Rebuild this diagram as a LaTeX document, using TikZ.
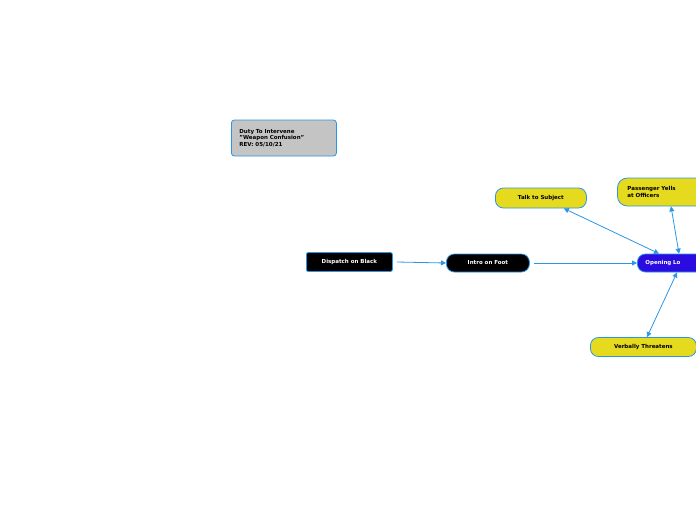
\documentclass[tikz,border=0pt]{standalone}
\usepackage{fontspec}
\setmainfont{DejaVu Sans}
\usetikzlibrary{arrows.meta}
\definecolor{bl}{HTML}{2A96E6}
\definecolor{yl}{HTML}{E6DA1E}
\definecolor{vi}{HTML}{2A0BE0}
\begin{document}
\begin{tikzpicture}[x=1pt,y=-1pt,
  base/.style={draw=bl,line width=0.8pt,font=\bfseries\fontsize{5.5}{6.5}\selectfont,inner sep=0pt,anchor=west},
  pill/.style={base,rounded corners=8pt},
  dark/.style={text=white,fill=black},
  yel/.style={fill=yl,text=black},
  conn/.style={draw=bl,line width=0.8pt,-{Triangle[width=5pt,length=5pt]}},
  dconn/.style={draw=bl,line width=0.8pt,{Triangle[width=5pt,length=5pt]}-{Triangle[width=5pt,length=5pt]}}]
\useasboundingbox (0,0) rectangle (696,520);
\clip (0,0) rectangle (696,520);
\node[base,fill=black!23,rounded corners=3pt,minimum width=97pt,minimum height=36pt,align=left,text width=89pt,inner xsep=8pt] (title) at (231,138) {Duty To Intervene\\"Weapon Confusion"\\REV: 05/10/21};
\node[base,dark,rounded corners=2pt,minimum width=86pt,minimum height=19pt,align=center] (disp) at (306,262) {Dispatch on Black};
\node[pill,dark,minimum width=83pt,minimum height=18pt,align=center] (intro) at (446,263) {Intro on Foot};
\node[pill,fill=vi,text=white,minimum width=110pt,minimum height=18pt,text width=94pt,inner xsep=8pt,align=left] (open) at (637,263) {Opening Lo};
\node[pill,yel,minimum width=91pt,minimum height=20pt,align=center] (talk) at (495,198) {Talk to Subject};
\node[pill,yel,rounded corners=10pt,minimum width=110pt,minimum height=28pt,text width=90pt,inner xsep=10pt,align=left] (pass) at (617,192) {Passenger Yells\\at Officers};
\node[pill,yel,minimum width=106pt,minimum height=19pt,align=center] (verb) at (590,347) {Verbally Threatens};
\draw[conn] (disp.east) ++(4,0) coordinate (d1) -- (intro.west);
\draw[conn] (intro.east) ++(4,0) coordinate (i1) -- (open.west);
\coordinate (o1) at ([xshift=22pt]open.north west);
\coordinate (o2) at ([xshift=42pt]open.north west);
\coordinate (o3) at ([xshift=40pt]open.south west);
\draw[dconn] ([xshift=-23pt]talk.south east) -- (o1);
\draw[dconn] ([xshift=54pt]pass.south west) -- (o2);
\draw[dconn] ([xshift=57pt]verb.north west) -- (o3);
\end{tikzpicture}
\end{document}
